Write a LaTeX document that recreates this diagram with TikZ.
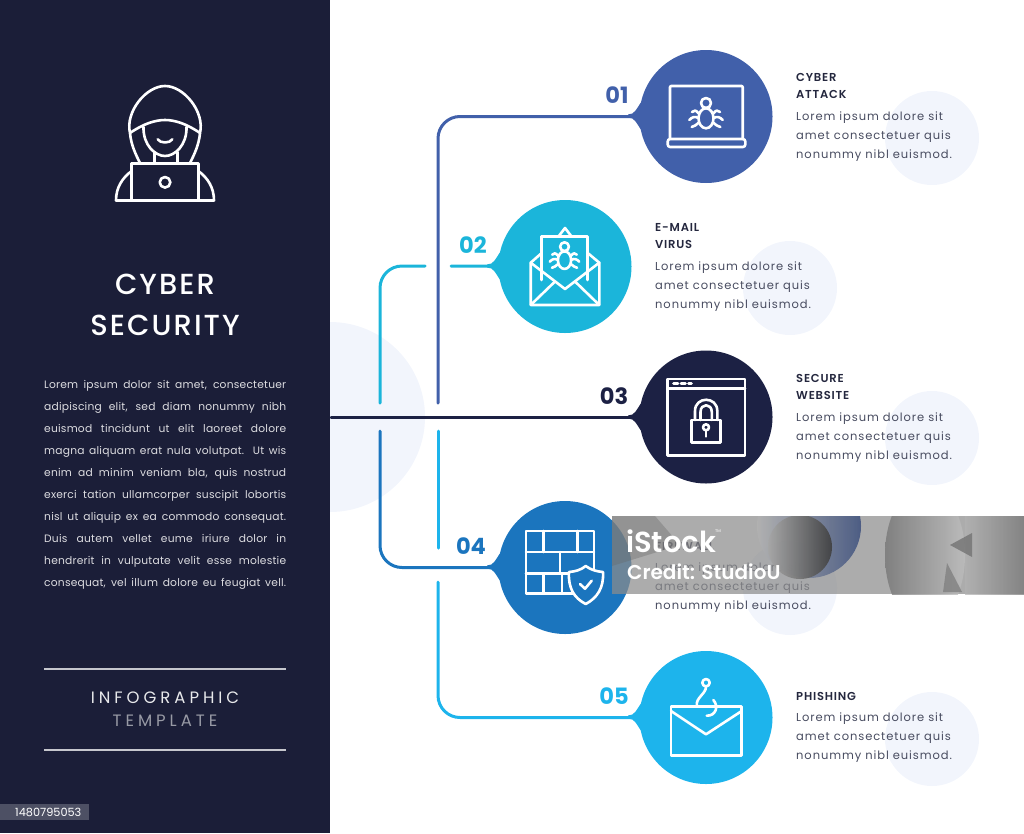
\documentclass[tikz,border=0pt]{standalone}
\usepackage{fontspec}
\setmainfont{Poppins}
\newfontfamily\spacedfont[LetterSpace=8]{Poppins}
\newfontfamily\headfont[LetterSpace=7]{Poppins SemiBold}
\newfontfamily\titlefont[LetterSpace=7]{Poppins Medium}
\newfontfamily\panelfont[LetterSpace=2]{Poppins}
\newfontfamily\widefont[LetterSpace=24]{Poppins}
\newfontfamily\stockfont{Poppins SemiBold}
\usepackage{tikz}
\usetikzlibrary{calc}
\tikzset{>=latex}
\definecolor{mypanel}{RGB}{27, 30, 56}
\definecolor{mypale}{RGB}{242, 245, 252}
\definecolor{myblue1}{RGB}{65, 96, 170}
\definecolor{mycyan2}{RGB}{27, 181, 218}
\definecolor{mynavy3}{RGB}{28, 33, 68}
\definecolor{myblue4}{RGB}{27, 117, 190}
\definecolor{mycyan5}{RGB}{29, 180, 236}
\definecolor{mytext}{RGB}{72, 76, 96}
\definecolor{myhead}{RGB}{36, 39, 62}
\tikzset{
  bubble/.style = {circle, minimum size=133, inner sep=0},
  cline/.style = {line width=3, line cap=round},
  icon/.style = {white, line width=2.6, line join=round, line cap=round},
  numlabel/.style = {font={\fontsize{22.5}{24}\selectfont\bfseries}},
  headlabel/.style = {anchor=west, inner sep=0, align=left, text=myhead, font={\fontsize{11.5}{17}\selectfont\headfont}},
  bodylabel/.style = {anchor=west, inner sep=0, align=left, text=mytext, font={\fontsize{11.5}{19}\selectfont\spacedfont}},
}
\newcommand{\tailfill}[3]{
\fill[#3] (#1-12,#2-1.5) .. controls (#1-5,#2-1.5) and (#1-4,#2-7) .. (#1+2,#2-15) -- (#1+2,#2+15) .. controls (#1-4,#2+7) and (#1-5,#2+1.5) .. (#1-12,#2+1.5) -- cycle;
}
\newcommand{\bugicon}[2]{
\begin{scope}[shift={(#1)}, scale=#2]
\draw[icon] (0,1.3) ellipse (7.5 and 10);
\draw[icon] (0,-14) circle (5);
\draw[icon] (-7.7,-4) .. controls (-10,-7) and (-12,-7) .. (-14,-5);
\draw[icon] (-7.7,1) .. controls (-11,-1) and (-14,0) .. (-16.7,3);
\draw[icon] (-7.7,6) .. controls (-9,9) and (-12,8) .. (-14.3,10);
\draw[icon] (7.7,-4) .. controls (10,-7) and (12,-7) .. (14,-5);
\draw[icon] (7.7,1) .. controls (11,-1) and (14,0) .. (16.7,3);
\draw[icon] (7.7,6) .. controls (9,9) and (12,8) .. (14.3,10);
\end{scope}
}
\newcommand{\panelline}[1]{\makebox[242pt][s]{#1}}
\begin{document}
\begin{tikzpicture}[x=1pt, y=-1pt]
\useasboundingbox (0,0) rectangle (1024,833);
% pale discs
\fill[mypale] (330,417) circle (95);
\fill[mypale] (932,138) circle (47);
\fill[mypale] (790,288) circle (47);
\fill[mypale] (932,438) circle (47);
\fill[mypale] (790,588) circle (47);
\fill[mypale] (932,739) circle (47);
% left panel
\fill[mypanel] (0,0) rectangle (330,833);
% hacker
\draw[icon] (130,133) .. controls (125,112) and (146,86) .. (165,86) .. controls (184,86) and (205,112) .. (200,133);
\draw[icon] (130,133) .. controls (143,124) and (155,120) .. (165,120) .. controls (175,120) and (187,124) .. (200,133);
\draw[icon] (130,133) .. controls (131,145) and (136,155) .. (140,163);
\draw[icon] (200,133) .. controls (199,145) and (194,155) .. (190,163);
\draw[icon] (143.5,127) .. controls (143,145) and (155,156) .. (165,156) .. controls (175,156) and (187,145) .. (186.5,127);
\draw[icon] (154.3,152) -- (154.3,163);
\draw[icon] (177.3,152) -- (177.3,163);
\draw[icon] (131.7,163.3) rectangle (198.3,200.5);
\draw[icon] (131.7,171) .. controls (122,178) and (116,188) .. (116,200.5) -- (214,200.5) .. controls (214,188) and (208,178) .. (198.3,171);
\draw[icon] (165,182.3) circle (5.3);
\draw[icon] (157.7,139.3) .. controls (160,143.5) and (170,143.5) .. (172.3,139.3);
% panel text
\node[white, align=center, font={\fontsize{29}{41}\selectfont\titlefont}] (title) at (165,304.5) {CYBER\\SECURITY};
\node[white!85!mypanel, anchor=west, inner sep=0, align=left, font={\fontsize{10.7}{22}\selectfont\panelfont}] (about) at (44,484.5) {%
\panelline{Lorem ipsum dolor sit amet, consectetuer}\\
\panelline{adipiscing elit, sed diam nonummy nibh}\\
\panelline{euismod tincidunt ut elit laoreet dolore}\\
\panelline{magna aliquam erat nula volutpat. Ut wis}\\
\panelline{enim ad minim veniam bla, quis nostrud}\\
\panelline{exerci tation ullamcorper suscipit lobortis}\\
\panelline{nisl ut aliquip ex ea commodo consequat.}\\
\panelline{Duis autem vellet eume iriure dolor in}\\
\panelline{hendrerit in vulputate velit esse molestie}\\
\panelline{consequat, vel illum dolore eu feugiat vell.}};
\coordinate (r1a) at (44,669);
\coordinate (r1b) at (286,669);
\coordinate (r2a) at (44,750);
\coordinate (r2b) at (286,750);
\draw[line width=1.5, white!75!mypanel] (r1a) -- (r1b);
\draw[line width=1.5, white!75!mypanel] (r2a) -- (r2b);
\node[white!90!mypanel, font={\fontsize{16.5}{18}\selectfont\widefont}] (info) at (165,698) {INFOGRAPHIC};
\node[white!55!mypanel, font={\fontsize{16.5}{18}\selectfont\widefont}] (templ) at (165,721) {TEMPLATE};
% bubbles
\node[bubble, fill=myblue1] (c1) at (706,116.5) {};
\node[bubble, fill=mycyan2] (c2) at (565,266.5) {};
\node[bubble, fill=mynavy3] (c3) at (706,417) {};
\node[bubble, fill=myblue4] (c4) at (565,567.5) {};
\node[bubble, fill=mycyan5] (c5) at (706,717.5) {};
\tailfill{640}{116}{myblue1}
\tailfill{499}{266}{mycyan2}
\tailfill{640}{417}{mynavy3}
\tailfill{499}{567}{myblue4}
\tailfill{640}{717}{mycyan5}
% connectors
\coordinate (s1) at (438,403);
\coordinate (s2a) at (425,266);
\coordinate (s2b) at (380,403);
\coordinate (s2c) at (451,266);
\coordinate (s3) at (331,417);
\coordinate (s4) at (380,431);
\coordinate (s5a) at (438,431);
\coordinate (s5b) at (438,548);
\coordinate (s5c) at (438,582);
\draw[cline, myblue1, rounded corners=22] (s1) |- (c1);
\draw[cline, mycyan2, rounded corners=22] (s2a) -| (s2b);
\draw[cline, mycyan2] (s2c) -- (c2);
\draw[cline, mynavy3] (s3) -- (c3);
\draw[cline, myblue4, rounded corners=22] (s4) |- (c4);
\draw[cline, mycyan5] (s5a) -- (s5b);
\draw[cline, mycyan5, rounded corners=22] (s5c) |- (c5);
% numbers
\node[numlabel, myblue1] (n1) at (617,95) {01};
\node[numlabel, mycyan2] (n2) at (473,245) {02};
\node[numlabel, mynavy3] (n3) at (614,396) {03};
\node[numlabel, myblue4] (n4) at (471,546) {04};
\node[numlabel, mycyan5] (n5) at (614,696) {05};
% texts
\node[headlabel] (h1) at (796,86) {CYBER\\ATTACK};
\node[bodylabel] (b1) at (796,137) {Lorem ipsum dolore sit\\amet consectetuer quis\\nonummy nibl euismod.};
\node[headlabel] (h2) at (655,236) {E-MAIL\\VIRUS};
\node[bodylabel] (b2) at (655,287) {Lorem ipsum dolore sit\\amet consectetuer quis\\nonummy nibl euismod.};
\node[headlabel] (h3) at (796,387) {SECURE\\WEBSITE};
\node[bodylabel] (b3) at (796,438) {Lorem ipsum dolore sit\\amet consectetuer quis\\nonummy nibl euismod.};
\node[headlabel] (h4) at (655,546) {FIREWALL};
\node[bodylabel] (b4) at (655,588) {Lorem ipsum dolore sit\\amet consectetuer quis\\nonummy nibl euismod.};
\node[headlabel] (h5) at (796,696) {PHISHING};
\node[bodylabel] (b5) at (796,738) {Lorem ipsum dolore sit\\amet consectetuer quis\\nonummy nibl euismod.};
% laptop
\draw[icon, rounded corners=1] (670,139) -- (670,86) -- (742.7,86) -- (742.7,139);
\draw[icon, rounded corners=2.5] (667.7,139) rectangle (745.3,147);
\bugicon{706,117}{1}
% mail with bug
\draw[icon] (541.7,253) -- (530.7,262.7) -- (530.7,305) -- (599.3,305) -- (599.3,262.7) -- (587.7,253);
\draw[icon] (558.3,236.7) -- (565,228) -- (571.7,236.7);
\draw[icon] (541.7,280) -- (541.7,236.7) -- (587.7,236.7) -- (587.7,280);
\draw[icon] (530.7,262.7) -- (565,289) -- (599.3,262.7);
\draw[icon] (530.7,305) -- (555,281.5);
\draw[icon] (599.3,305) -- (575,281.5);
\bugicon{564.5,259}{0.88}
% browser
\draw[icon] (667.7,379) rectangle (745,455.7);
\draw[icon] (667.7,388.5) -- (745,388.5);
\draw[icon] (673.5,383.7) -- (678,383.7);
\draw[icon] (681,383.7) -- (685.5,383.7);
\draw[icon] (688.5,383.7) -- (691.5,383.7);
\draw[icon] (691.7,420) rectangle (720.7,442.7);
\draw[icon] (695,420) -- (695,411) .. controls (695,396) and (717.3,396) .. (717.3,411) -- (717.3,420);
\draw[icon] (700.5,420) -- (700.5,412) .. controls (700.5,403) and (711.8,403) .. (711.8,412) -- (711.8,420);
\draw[icon] (706,427.3) circle (3);
\draw[icon] (706,430.5) -- (706,436.5);
% wall with shield
\draw[icon] (526,531) rectangle (594,593.5);
\draw[icon] (526,552) -- (594,552);
\draw[icon] (526,573.3) -- (594,573.3);
\draw[icon] (543.3,531) -- (543.3,552);
\draw[icon] (577.3,531) -- (577.3,552);
\draw[icon] (560,552) -- (560,573.3);
\draw[icon] (543.3,573.3) -- (543.3,593.5);
\draw[icon] (562,573.3) -- (562,593.5);
\draw[icon, fill=myblue4] (585.7,566) .. controls (591,570) and (597,571.5) .. (603,572) .. controls (604,588) and (597,598) .. (585.7,604) .. controls (574,598) and (568,588) .. (569,572) .. controls (575,571.5) and (581,570) .. (585.7,566) -- cycle;
\draw[icon] (580,584) -- (585,588.7) -- (591.7,580.7);
% hook mail
\draw[icon] (671,706.7) rectangle (741.7,755.7);
\draw[icon] (671,711) -- (706,734.3) -- (741.7,711);
\draw[icon] (706,682.7) circle (3.7);
\draw[icon] (706,686.7) .. controls (706,694) and (695,698) .. (697,706);
\draw[icon] (713.3,700) .. controls (719,706) and (716,716) .. (706.7,715.7);
% stock band
\begin{scope}
\clip (612,516) rectangle (1024,594);
\fill[black!45!white, fill opacity=0.72] (612,516) rectangle (1024,594);
\fill[black!60!white, opacity=0.35] (612,516) -- (655,516) -- (680,545) -- (612,566) -- cycle;
\shade[left color=black!30!white, right color=myblue1!70!black, opacity=0.75] (809,526) circle (52);
\shade[left color=black!35!white, right color=black!75!white, opacity=0.9] (800,547) circle (32);
\shade[left color=black!55!white, right color=black!25!white, opacity=0.75] (925,555) ellipse (40 and 70);
\shade[left color=black!30!white, right color=black!55!white, opacity=0.7] (965,516) rectangle (1024,594);
\fill[black!55!white, opacity=0.8] (950,545) -- (972,533) -- (972,557) -- cycle;
\fill[black!50!white, opacity=0.8] (947,563) -- (962,592) -- (943,592) -- cycle;
\end{scope}
\node[white, inner sep=0, anchor=west, font={\fontsize{29}{31}\selectfont\stockfont}] (stock) at (626,541) {iStock};
\node[white, inner sep=0, font={\fontsize{4}{5}\selectfont}] (tm) at (718,531) {TM};
\node[white, inner sep=0, anchor=west, font={\fontsize{20}{22}\selectfont\stockfont}] (credit) at (627,572) {Credit: StudioU};
% id tag
\fill[white!22!mypanel] (0,804) rectangle (89,820);
\node[white, inner sep=0, anchor=west, font={\fontsize{11.3}{12}\selectfont}] (idtag) at (15,812) {1480795053};
\end{tikzpicture}
\end{document}
